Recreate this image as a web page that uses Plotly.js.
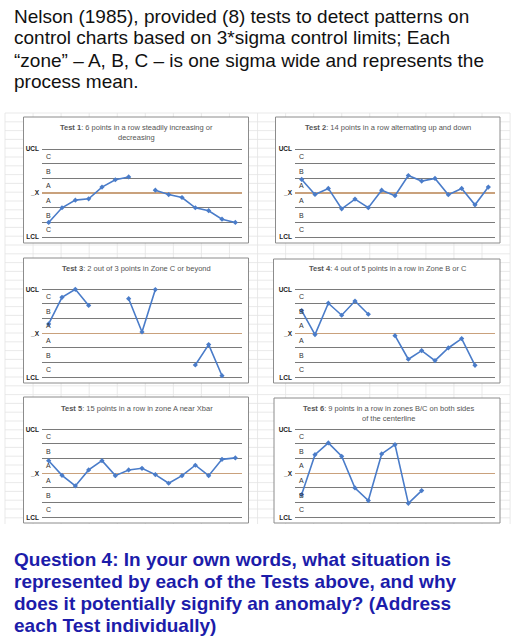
<!DOCTYPE html>
<html>
<head>
<meta charset="utf-8">
<script src="https://cdn.plot.ly/plotly-3.0.1.min.js"></script>
<style>html,body{margin:0;padding:0;background:#fff;}#chart{width:515px;height:640px;}</style>
</head>
<body>
<div id="chart"></div>
<script>
// ---------------- data ----------------
const pointIndex = [1,2,3,4,5,6,7,8,9,10,11,12,13,14,15];
const test1 = [-2.0,-1.0,-0.48,-0.39,0.41,0.91,1.1,null,0.2,-0.1,-0.3,-1.0,-1.2,-1.78,-2.0];
const test2 = [0.93,-0.09,0.32,-1.07,-0.41,-1.0,0.2,-0.18,1.2,0.82,1.0,-0.11,0.32,-0.8,0.41];
const test3 = [0.64,2.45,3.0,1.9,null,null,2.36,0.09,2.98,null,null,-2.16,-0.77,-2.89,null];
const test4 = [1.55,-0.09,2.05,1.23,2.2,1.3,null,-0.16,-1.77,-1.18,-1.86,-1.0,-0.36,-2.18,null];
const test5 = [0.86,-0.14,-0.86,0.23,0.86,-0.16,0.23,0.34,-0.09,-0.68,-0.16,0.55,-0.16,0.95,1.05];
const test6 = [-1.45,1.27,2.07,1.16,-1.0,-1.86,1.32,1.95,-2.05,-1.18,null,null,null,null,null];
const seriesList = [test1,test2,test3,test4,test5,test6];

const zoneLevels = [3,2,1,0,-1,-2,-3];
const levelLabels = ['UCL','','','_X','','','LCL'];
const zoneLetters = ['C','B','A','A','B','C'];
const zoneMid = [2.5,1.5,0.5,-0.5,-1.5,-2.5];

const panelTitles = [
  ['<b>Test 1</b>: 6 points in a row steadily increasing or','decreasing'],
  ['<b>Test 2</b>: 14 points in a row alternating up and down'],
  ['<b>Test 3</b>: 2 out of 3 points in Zone C or beyond'],
  ['<b>Test 4</b>: 4 out of 5 points in a row in Zone B or C'],
  ['<b>Test 5</b>: 15 points in a row in zone A near Xbar'],
  ['<b>Test 6</b>: 9 points in a row in zones B/C on both sides','of the centerline']
];

const headerLines = [
  'Nelson (1985), provided (8) tests to detect patterns on',
  'control charts based on 3*sigma control limits; Each',
  '\u201Czone\u201D \u2013 A, B, C \u2013 is one sigma wide and represents the',
  'process mean.'
];
const questionLines = [
  'Question 4: In your own words, what situation is',
  'represented by each of the Tests above, and why',
  'does it potentially signify an anomaly? (Address',
  'each Test individually)'
];

// ---------------- layout helpers ----------------
const W = 515, H = 640;
const fx = x => x / W;
const fy = y => 1 - y / H;

const panels = [
  {box:[23.5,117,248.5,243], dom:[42,242], center:193.1, tx:136, ty:[127,138]},
  {box:[275.5,117,500,243], dom:[295,495], center:193.1, tx:388, ty:[127]},
  {box:[23.5,258,248.5,383], dom:[42,242], center:333.3, tx:136.5, ty:[268]},
  {box:[273.5,259,500,383], dom:[295,495], center:333.3, tx:388, ty:[268]},
  {box:[23.5,397,248.5,523], dom:[42,242], center:473.3, tx:136.5, ty:[408]},
  {box:[274,398,500,523], dom:[295,495], center:473.3, tx:388, ty:[408,418]}
];
const sigmaPx = 14.67, yLim = 3.25, halfPx = sigmaPx * yLim;

const layout = {
  width: W, height: H,
  margin: {l:0, r:0, t:0, b:0, pad:0},
  paper_bgcolor: '#ffffff',
  plot_bgcolor: 'rgba(0,0,0,0)',
  showlegend: false,
  shapes: [],
  annotations: []
};

// spreadsheet background grid
for (let y = 113; y <= 524; y += 8.8) {
  layout.shapes.push({type:'line', xref:'paper', yref:'paper', layer:'below',
    x0: fx(5), x1: fx(510), y0: fy(y), y1: fy(y), line:{color:'#e3e3e3', width:0.8}});
}
for (let x = 5; x <= 511; x += 28.06) {
  layout.shapes.push({type:'line', xref:'paper', yref:'paper', layer:'below',
    x0: fx(x), x1: fx(x), y0: fy(113), y1: fy(524), line:{color:'#e3e3e3', width:0.8}});
}

const traces = [];
panels.forEach((p, i) => {
  const n = i + 1;
  const xa = 'xaxis' + n, ya = 'yaxis' + n;
  const xr = 'x' + n, yr = 'y' + n;
  // chart frame
  layout.shapes.push({type:'rect', xref:'paper', yref:'paper', layer:'below',
    x0: fx(p.box[0]), x1: fx(p.box[2]), y0: fy(p.box[3]), y1: fy(p.box[1]),
    fillcolor:'#ffffff', line:{color:'#8c8c8c', width:1}});
  layout[xa] = {
    domain: [fx(p.dom[0]), fx(p.dom[1])], anchor: yr,
    range: [0.5, 15.5], showgrid:false, zeroline:false, showline:false,
    showticklabels:false, ticks:'', fixedrange:true
  };
  layout[ya] = {
    domain: [fy(p.center + halfPx), fy(p.center - halfPx)], anchor: xr,
    range: [-yLim, yLim], tickmode:'array', tickvals: zoneLevels,
    ticktext: levelLabels.map(t => t ? '<b>' + t + '</b>' : ''),
    showgrid:true, gridcolor:'#7a7a7a', gridwidth:1,
    zeroline:true, zerolinecolor:'#c9a17c', zerolinewidth:1.3,
    showline:false, ticks:'', ticklabelstandoff:2,
    tickfont:{family:'Liberation Sans Narrow, Liberation Sans, Arial, sans-serif', size:6.5, color:'#222'},
    fixedrange:true
  };
  traces.push({
    type:'scatter', mode:'lines+markers', x: pointIndex, y: seriesList[i],
    xaxis: xr, yaxis: yr, connectgaps:false, hoverinfo:'skip',
    line:{color:'#4a7cc9', width:1.6},
    marker:{color:'#4a7cc9', size:4, symbol:'diamond'}
  });
  // zone letters
  zoneLetters.forEach((z, k) => {
    layout.annotations.push({xref: xr + ' domain', yref: yr, x: 0.03, y: zoneMid[k],
      text: z, showarrow:false, xanchor:'center', yanchor:'middle',
      font:{family:'Liberation Sans, Arial, sans-serif', size:7, color:'#333'}});
  });
  // panel title
  panelTitles[i].forEach((t, k) => {
    layout.annotations.push({xref:'paper', yref:'paper', x: fx(p.tx), y: fy(p.ty[k]),
      text: t, showarrow:false, xanchor:'center', yanchor:'middle',
      font:{family:'Liberation Sans, Arial, sans-serif', size:7.5, color:'#555'}});
  });
});

// header text
const headerY = [16.1, 37.9, 60.1, 81.9];
headerLines.forEach((t, k) => {
  layout.annotations.push({xref:'paper', yref:'paper', x: fx(12), y: fy(headerY[k]),
    text: t, showarrow:false, xanchor:'left', yanchor:'middle', align:'left',
    font:{family:'Liberation Sans, Arial, sans-serif', size:19, color:'#111'}});
});
// question text
const questionY = [559.1, 581.7, 603.4, 625.1];
questionLines.forEach((t, k) => {
  layout.annotations.push({xref:'paper', yref:'paper', x: fx(12), y: fy(questionY[k]),
    text: '<b>' + t + '</b>', showarrow:false, xanchor:'left', yanchor:'middle', align:'left',
    font:{family:'Liberation Sans, Arial, sans-serif', size:19, color:'#1c1caa'}});
});

Plotly.newPlot('chart', traces, layout, {displayModeBar:false, staticPlot:true});
</script>
</body>
</html>
